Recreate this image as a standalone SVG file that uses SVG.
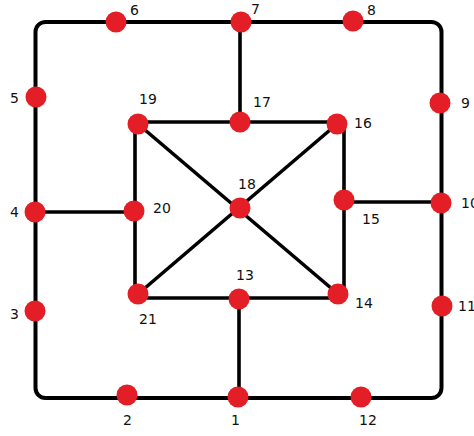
<svg xmlns="http://www.w3.org/2000/svg" width="474" height="436" viewBox="0 0 474 436">
<style>
.e{stroke:#000;stroke-width:3.6;fill:none;stroke-linecap:butt}
.o{stroke:#000;stroke-width:4;fill:none}
.n{fill:#e31e26}
.t{font-family:"DejaVu Sans",sans-serif;font-size:14px;fill:#111}
</style>
<rect width="474" height="436" fill="#fff"/>
<g id="connectors">
<rect class="o" x="35.5" y="22" width="406" height="376" rx="10"/>
<line class="e" x1="240" y1="22" x2="240" y2="122"/>
<line class="e" x1="138" y1="122" x2="337" y2="122"/>
<line class="e" x1="135" y1="124" x2="135" y2="294"/>
<line class="e" x1="35" y1="212" x2="134" y2="212"/>
<line class="e" x1="344" y1="124" x2="344" y2="294"/>
<line class="e" x1="344" y1="202" x2="441" y2="202"/>
<line class="e" x1="138" y1="124" x2="338" y2="294"/>
<line class="e" x1="337" y1="124" x2="138" y2="294"/>
<line class="e" x1="138" y1="298" x2="338" y2="298"/>
<line class="e" x1="239" y1="299" x2="239" y2="397"/>
</g>
<g id="n1"><circle class="n" cx="238" cy="397" r="10.5"/><text class="t" x="231" y="425">1</text></g>
<g id="n2"><circle class="n" cx="127" cy="395" r="10.5"/><text class="t" x="123" y="425">2</text></g>
<g id="n3"><circle class="n" cx="35" cy="311" r="10.5"/><text class="t" x="10" y="319">3</text></g>
<g id="n4"><circle class="n" cx="35" cy="212" r="10.5"/><text class="t" x="10" y="217">4</text></g>
<g id="n5"><circle class="n" cx="36" cy="97" r="10.5"/><text class="t" x="10" y="103">5</text></g>
<g id="n6"><circle class="n" cx="116" cy="22" r="10.5"/><text class="t" x="130" y="15">6</text></g>
<g id="n7"><circle class="n" cx="241" cy="22" r="10.5"/><text class="t" x="251" y="14">7</text></g>
<g id="n8"><circle class="n" cx="353" cy="21" r="10.5"/><text class="t" x="367" y="15">8</text></g>
<g id="n9"><circle class="n" cx="440" cy="103" r="10.5"/><text class="t" x="461" y="108">9</text></g>
<g id="n10"><circle class="n" cx="441" cy="203" r="10.5"/><text class="t" x="461" y="208">10</text></g>
<g id="n11"><circle class="n" cx="442" cy="306" r="10.5"/><text class="t" x="458" y="311">11</text></g>
<g id="n12"><circle class="n" cx="361" cy="397" r="10.5"/><text class="t" x="359" y="425">12</text></g>
<g id="n13"><circle class="n" cx="239" cy="299" r="10.5"/><text class="t" x="236" y="280">13</text></g>
<g id="n14"><circle class="n" cx="338" cy="294" r="10.5"/><text class="t" x="355" y="308">14</text></g>
<g id="n15"><circle class="n" cx="344" cy="200" r="10.5"/><text class="t" x="362" y="224">15</text></g>
<g id="n16"><circle class="n" cx="337" cy="124" r="10.5"/><text class="t" x="354" y="128">16</text></g>
<g id="n17"><circle class="n" cx="240" cy="122" r="10.5"/><text class="t" x="253" y="107">17</text></g>
<g id="n18"><circle class="n" cx="240" cy="208" r="10.5"/><text class="t" x="238" y="189">18</text></g>
<g id="n19"><circle class="n" cx="138" cy="124" r="10.5"/><text class="t" x="139" y="104">19</text></g>
<g id="n20"><circle class="n" cx="134" cy="211" r="10.5"/><text class="t" x="153" y="213">20</text></g>
<g id="n21"><circle class="n" cx="138" cy="294" r="10.5"/><text class="t" x="139" y="324">21</text></g>
</svg>
